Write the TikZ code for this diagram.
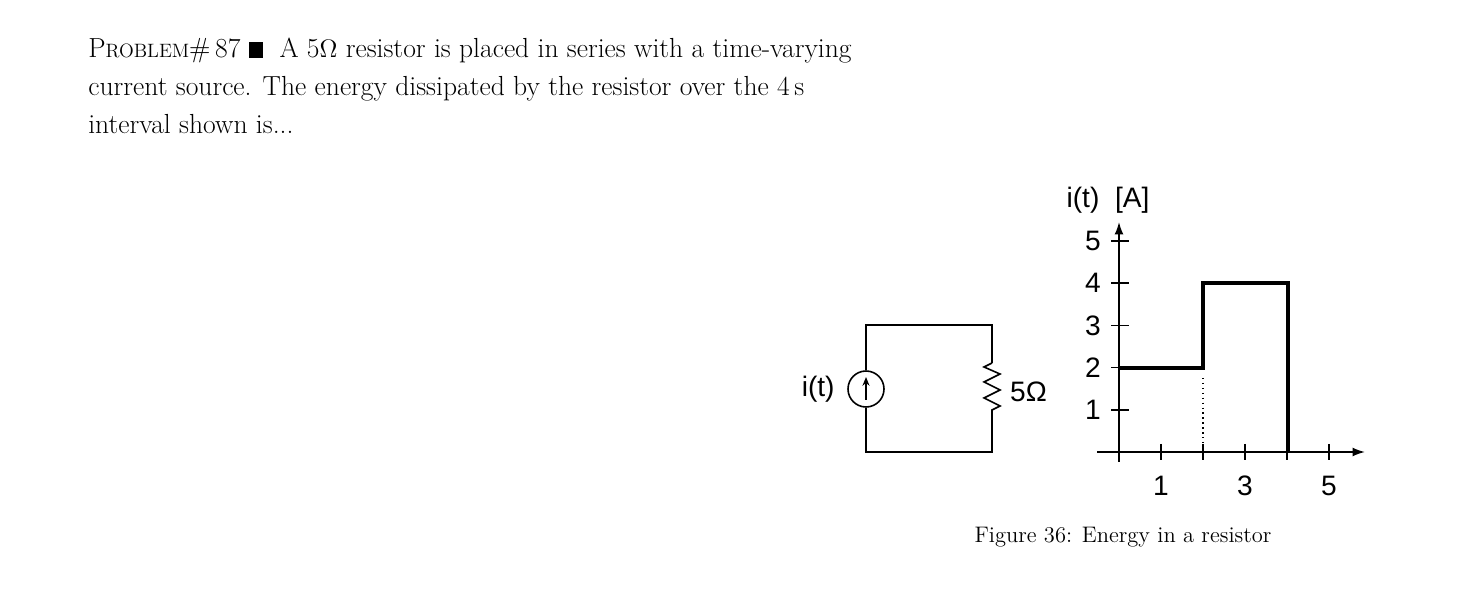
\documentclass[tikz,border=0pt]{standalone}
\usepackage{fontspec}
\newfontfamily\plotfont{Liberation Sans}
\usetikzlibrary{arrows.meta}
\begin{document}
\begin{tikzpicture}
  [x=0.02cm, y=-0.02cm,
   prose/.style={anchor=base west, inner sep=0pt, font=\fontsize{15.7}{20}\selectfont},
   lbl/.style={font=\plotfont\fontsize{16}{19}\selectfont, inner sep=1pt},
   wire/.style={line width=0.9pt},
   axis/.style={line width=0.9pt, -{Latex[length=7pt,width=5pt]}},
   curve/.style={line width=2pt}]
  \useasboundingbox (0,0) rectangle (1470,590);

  % problem text
  \node [prose] (l1) at (88,58) {P{\fontsize{11}{13}\selectfont ROBLEM}\#\,87 \rule{8pt}{9pt}\ \ A 5$\Omega$ resistor is placed in series with a time-varying};
  \node [prose] (l2) at (88,96) {current source. The energy dissipated by the resistor over the 4\,s};
  \node [prose] (l3) at (88,134) {interval shown is...};

  % circuit
  \coordinate (tl) at (866,325);
  \coordinate (tr) at (992,325);
  \coordinate (bl) at (866,452);
  \coordinate (br) at (992,452);
  \node [draw, wire, circle, inner sep=0pt, minimum size=0.72cm] (src) at (866,389) {};
  \coordinate (rtop) at (992,363);
  \coordinate (rbot) at (992,417);
  \draw [wire] (src.north) -- (tl) -- (tr) -- (rtop);
  \draw [wire] (src.south) -- (bl) -- (br) -- (rbot);
  \draw [wire] (rtop) -- ++(-8,4) -- ++(16,7) -- ++(-16,8) -- ++(16,8) -- ++(-16,8) -- ++(16,8) -- ++(-8,4) -- (rbot);
  \draw [wire, -{Stealth[length=5pt,width=4pt]}] (866,400) -- (866,377);
  \node [lbl, anchor=east] (isrc) at (src.west) [xshift=-6pt] {i(t)};
  \node [lbl, anchor=west] (rval) at (1008,392) {5Ω};

  % graph
  \coordinate (o) at (1119,452);
  \draw [axis] (1097,452) -- (1365,452);
  \draw [axis] (1119,462) -- (1119,222);
  \foreach \k in {1,...,5}
    \draw [wire] (1119+42*\k,444) -- (1119+42*\k,460);
  \foreach \k in {1,...,5}
    \draw [wire] (1111,452-42.2*\k) -- (1129,452-42.2*\k);
  \foreach \k in {1,3,5}
    \node [lbl] (xt\k) at (1119+42*\k,486) {\k};
  \foreach \k in {1,...,5}
    \node [lbl] (yt\k) at (1093,452-42.2*\k) {\k};
  \node [lbl] (ylab) at (1108,200) {i(t)\ \ [A]};
  \draw [curve] (1119,368) -- (1203,368) -- (1203,283) -- (1288,283) -- (1288,452);
  \draw [dotted, line width=0.8pt] (1203,378) -- (1203,452);

  % caption
  \node [font=\fontsize{12.8}{16}\selectfont, inner sep=0pt] (cap) at (1123,537) {Figure 36: Energy in a resistor};
\end{tikzpicture}
\end{document}
